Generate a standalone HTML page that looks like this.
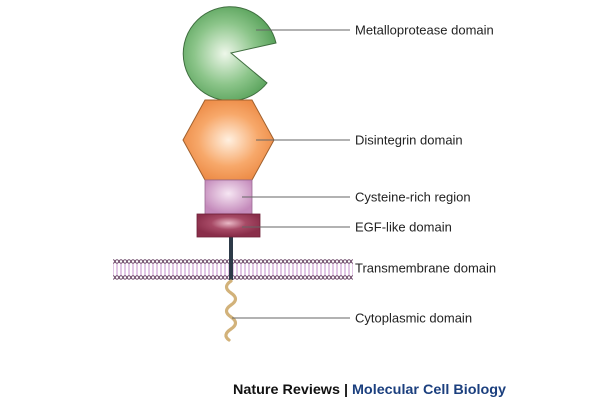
<!DOCTYPE html>
<html><head><meta charset="utf-8"><style>
html,body{margin:0;padding:0;background:#fff;}
svg{display:block;}
text{font-family:"Liberation Sans",Arial,sans-serif;}
</style></head><body>
<svg width="600" height="401" viewBox="0 0 600 401" xmlns="http://www.w3.org/2000/svg">
<defs>
<radialGradient id="g1" cx="0.45" cy="0.5" r="0.55"><stop offset="0" stop-color="#eef7ea"/><stop offset="0.6" stop-color="#8cc58a"/><stop offset="1" stop-color="#5aa35c"/></radialGradient>
<radialGradient id="g2" cx="0.5" cy="0.5" r="0.55"><stop offset="0" stop-color="#fff0e0"/><stop offset="0.6" stop-color="#f7a86a"/><stop offset="1" stop-color="#ec8a45"/></radialGradient>
<radialGradient id="g3" cx="0.5" cy="0.4" r="0.6"><stop offset="0" stop-color="#f6e6f3"/><stop offset="1" stop-color="#c48abb"/></radialGradient>
<radialGradient id="g4" cx="0.5" cy="0.4" r="0.55"><stop offset="0" stop-color="#e9b9c6"/><stop offset="0.5" stop-color="#a74a66"/><stop offset="1" stop-color="#8a2e4a"/></radialGradient>
<pattern id="dots" x="115" y="0" width="4" height="401" patternUnits="userSpaceOnUse">
<line x1="2" y1="262" x2="2" y2="277" stroke="#d6addb" stroke-width="1.4"/>
<circle cx="2" cy="261.5" r="1.7" fill="#fff" stroke="#6e4a6a" stroke-width="1"/>
<circle cx="2" cy="277.5" r="1.7" fill="#fff" stroke="#6e4a6a" stroke-width="1"/>
</pattern>
</defs>
<rect x="113" y="258" width="240" height="23" fill="url(#dots)"/>
<rect x="229" y="237" width="4" height="43" fill="#2d3a48"/>
<path d="M231 281 q-9 6 0 12 q9 6 0 12 q-9 6 0 12 q9 6 0 12 q-9 6 -2 11" fill="none" stroke="#d2b27a" stroke-width="3.2" stroke-linecap="round"/>
<path d="M276 43 L231 53 L267 83 A47 47 0 1 1 276 43 Z" fill="url(#g1)" stroke="#3f6e3f" stroke-width="1"/>
<polygon points="205,100 252,100 274,140 252,180 205,180 183,140" fill="url(#g2)" stroke="#a0602d" stroke-width="1"/>
<rect x="205" y="180" width="47" height="34" fill="url(#g3)" stroke="#9a6a93" stroke-width="0.8"/>
<rect x="197" y="214" width="63" height="23" fill="url(#g4)" stroke="#6e2038" stroke-width="0.8"/>
<g stroke="#666" stroke-width="1">
<line x1="256" y1="30" x2="350" y2="30"/>
<line x1="256" y1="140" x2="350" y2="140"/>
<line x1="242" y1="197" x2="350" y2="197"/>
<line x1="242" y1="227" x2="350" y2="227"/>
<line x1="232" y1="318" x2="350" y2="318"/>
</g>
<g font-size="13" fill="#222" dominant-baseline="central">
<text x="355" y="30">Metalloprotease domain</text>
<text x="355" y="140">Disintegrin domain</text>
<text x="355" y="197">Cysteine-rich region</text>
<text x="355" y="227">EGF-like domain</text>
<text x="355" y="268">Transmembrane domain</text>
<text x="355" y="318">Cytoplasmic domain</text>
</g>
<text x="233" y="394" font-size="14" font-weight="bold" textLength="273" lengthAdjust="spacingAndGlyphs"><tspan fill="#111">Nature Reviews | </tspan><tspan fill="#1b3f7e">Molecular Cell Biology</tspan></text>
</svg>
</body></html>
